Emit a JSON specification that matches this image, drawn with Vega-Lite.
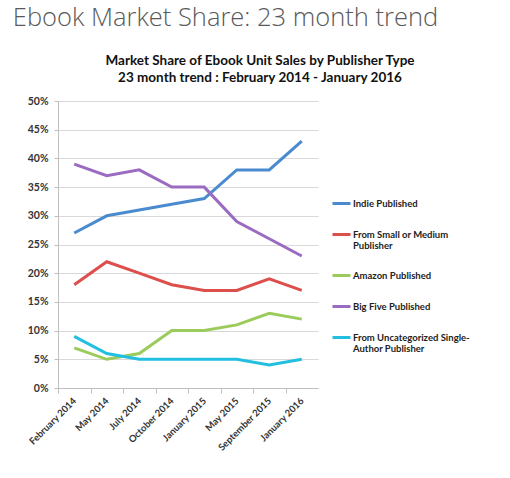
{
  "$schema": "https://vega.github.io/schema/vega-lite/v6.json",
  "padding": {"left": 12, "top": 6, "right": 5, "bottom": 5},
  "background": "white",
  "title": {"text": "Ebook Market Share: 23 month trend", "anchor": "start", "fontSize": 25.5, "font": "Open Sans", "fontWeight": 300, "color": "#595959", "dx": -14, "offset": 22},
  "config": {"view": {"stroke": null}, "font": "Lato"},
  "resolve": {"legend": {"color": "independent"}},
  "vconcat": [
    {
      "width": 260,
      "height": 287,
      "title": {"text": ["Market Share of Ebook Unit Sales by Publisher Type", "23 month trend : February 2014 - January 2016"], "fontSize": 13.5, "font": "Lato", "fontWeight": "bold", "color": "#111111", "anchor": "middle", "dx": 72, "lineHeight": 17, "offset": 12},
      "data": {"values": [
        {"month": "February 2014", "publisher": "Indie Published", "share": 0.27},
        {"month": "May 2014", "publisher": "Indie Published", "share": 0.30},
        {"month": "July 2014", "publisher": "Indie Published", "share": 0.31},
        {"month": "October 2014", "publisher": "Indie Published", "share": 0.32},
        {"month": "January 2015", "publisher": "Indie Published", "share": 0.33},
        {"month": "May 2015", "publisher": "Indie Published", "share": 0.38},
        {"month": "September 2015", "publisher": "Indie Published", "share": 0.38},
        {"month": "January 2016", "publisher": "Indie Published", "share": 0.43},
        {"month": "February 2014", "publisher": "From Small or Medium Publisher", "share": 0.18},
        {"month": "May 2014", "publisher": "From Small or Medium Publisher", "share": 0.22},
        {"month": "July 2014", "publisher": "From Small or Medium Publisher", "share": 0.20},
        {"month": "October 2014", "publisher": "From Small or Medium Publisher", "share": 0.18},
        {"month": "January 2015", "publisher": "From Small or Medium Publisher", "share": 0.17},
        {"month": "May 2015", "publisher": "From Small or Medium Publisher", "share": 0.17},
        {"month": "September 2015", "publisher": "From Small or Medium Publisher", "share": 0.19},
        {"month": "January 2016", "publisher": "From Small or Medium Publisher", "share": 0.17},
        {"month": "February 2014", "publisher": "Amazon Published", "share": 0.07},
        {"month": "May 2014", "publisher": "Amazon Published", "share": 0.05},
        {"month": "July 2014", "publisher": "Amazon Published", "share": 0.06},
        {"month": "October 2014", "publisher": "Amazon Published", "share": 0.10},
        {"month": "January 2015", "publisher": "Amazon Published", "share": 0.10},
        {"month": "May 2015", "publisher": "Amazon Published", "share": 0.11},
        {"month": "September 2015", "publisher": "Amazon Published", "share": 0.13},
        {"month": "January 2016", "publisher": "Amazon Published", "share": 0.12},
        {"month": "February 2014", "publisher": "Big Five Published", "share": 0.39},
        {"month": "May 2014", "publisher": "Big Five Published", "share": 0.37},
        {"month": "July 2014", "publisher": "Big Five Published", "share": 0.38},
        {"month": "October 2014", "publisher": "Big Five Published", "share": 0.35},
        {"month": "January 2015", "publisher": "Big Five Published", "share": 0.35},
        {"month": "May 2015", "publisher": "Big Five Published", "share": 0.29},
        {"month": "September 2015", "publisher": "Big Five Published", "share": 0.26},
        {"month": "January 2016", "publisher": "Big Five Published", "share": 0.23},
        {"month": "February 2014", "publisher": "From Uncategorized Single-Author Publisher", "share": 0.09},
        {"month": "May 2014", "publisher": "From Uncategorized Single-Author Publisher", "share": 0.06},
        {"month": "July 2014", "publisher": "From Uncategorized Single-Author Publisher", "share": 0.05},
        {"month": "October 2014", "publisher": "From Uncategorized Single-Author Publisher", "share": 0.05},
        {"month": "January 2015", "publisher": "From Uncategorized Single-Author Publisher", "share": 0.05},
        {"month": "May 2015", "publisher": "From Uncategorized Single-Author Publisher", "share": 0.05},
        {"month": "September 2015", "publisher": "From Uncategorized Single-Author Publisher", "share": 0.04},
        {"month": "January 2016", "publisher": "From Uncategorized Single-Author Publisher", "share": 0.05}
      ]},
      "mark": {"type": "line", "strokeWidth": 3},
      "encoding": {
        "x": {
          "field": "month", "type": "ordinal",
          "sort": ["February 2014", "May 2014", "July 2014", "October 2014", "January 2015", "May 2015", "September 2015", "January 2016"],
          "scale": {"type": "point", "padding": 0.5},
          "axis": {"title": null, "labelAngle": -45, "labelAlign": "right", "labelBaseline": "middle", "labelFont": "Lato", "labelFontSize": 9.5, "labelFontWeight": "bold", "labelColor": "#333333", "domainColor": "#bfbfbf", "tickColor": "#bfbfbf", "tickSize": 5, "tickOffset": -16.25, "labelOffset": 16.25, "labelPadding": 6, "grid": false}
        },
        "y": {
          "field": "share", "type": "quantitative",
          "scale": {"domain": [0, 0.5]},
          "axis": {"title": null, "values": [0, 0.05, 0.1, 0.15, 0.2, 0.25, 0.3, 0.35, 0.4, 0.45, 0.5], "format": ".0%", "labelFont": "Lato", "labelFontWeight": "bold", "labelFontSize": 10.5, "labelColor": "#333333", "domainColor": "#bfbfbf", "tickColor": "#bfbfbf", "tickSize": 4, "gridColor": "#d9d9d9", "labelPadding": 6}
        },
        "color": {
          "field": "publisher", "type": "nominal",
          "scale": {
            "domain": ["Indie Published", "From Small or Medium Publisher", "Amazon Published", "Big Five Published", "From Uncategorized Single-Author Publisher"],
            "range": ["#4a8bcf", "#dd4f4c", "#9bcb5b", "#9a6bc0", "#22bfe0"]
          },
          "legend": {
            "title": null, "orient": "none", "legendX": 273, "legendY": 92, "padding": 0,
            "symbolType": "stroke", "symbolSize": 324, "symbolStrokeWidth": 3,
            "labelFont": "Lato", "labelFontSize": 9.5, "labelFontWeight": "bold", "labelColor": "#222222", "labelOffset": 1, "rowPadding": 14, "labelLimit": 200,
            "labelExpr": "datum.label == 'From Small or Medium Publisher' ? ['From Small or Medium', 'Publisher'] : datum.label == 'From Uncategorized Single-Author Publisher' ? ['From Uncategorized Single-', 'Author Publisher'] : datum.label"
          }
        }
      }
    }
  ]
}
